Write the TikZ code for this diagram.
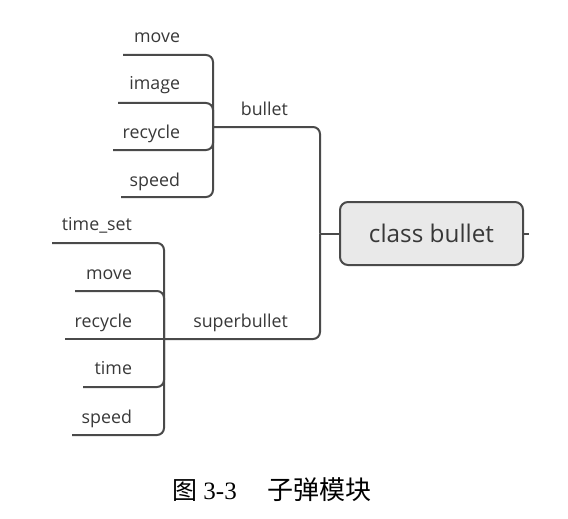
\documentclass[tikz,border=0pt]{standalone}
\usepackage{fontspec}
\setmainfont{Open Sans}
\newfontfamily\cjk{Noto Sans CJK SC}
\newfontfamily\capfont{Liberation Serif}
\definecolor{linegray}{HTML}{4A4A4A}
\definecolor{textgray}{HTML}{383838}
\definecolor{boxfill}{HTML}{E9E9E9}
\begin{document}
\begin{tikzpicture}[x=1pt, y=-1pt, line width=2pt,
    leaf/.style={anchor=base east, inner sep=0pt, text=textgray, font=\fontsize{17.8}{20}\selectfont},
    branch/.style={draw=linegray, rounded corners=7pt},
    main node/.style={draw=linegray, fill=boxfill, rounded corners=8pt, minimum width=183pt, minimum height=63pt, text=textgray, font=\fontsize{24.3}{28}\selectfont}]

                \useasboundingbox (0,0) rectangle (568,519);

                \node[main node] at (431.5, 233.5) (cb) {class bullet};
                \coordinate (hub) at (320, 233.5);
                \coordinate (stub) at (529, 233.5);

                % bullet
                \coordinate (bj) at (213, 127);
                \node[leaf] at (289, 115) (bullet) {bullet};
                \node[leaf] at (181, 43) (move1) {move};
                \node[leaf] at (181, 90) (image1) {image};
                \node[leaf] at (181, 138) (recycle1) {recycle};
                \node[leaf] at (181, 186) (speed1) {speed};
                \coordinate (move1l) at (123, 55);
                \coordinate (image1l) at (118, 103);
                \coordinate (recycle1l) at (113, 150);
                \coordinate (speed1l) at (121, 197);

                % superbullet
                \coordinate (sj) at (164, 339);
                \node[leaf] at (289, 327) (superbullet) {superbullet};
                \node[leaf] at (133, 230) (timeset2) {time\_set};
                \node[leaf] at (133, 279) (move2) {move};
                \node[leaf] at (133, 327) (recycle2) {recycle};
                \node[leaf] at (133, 374) (time2) {time};
                \node[leaf] at (133, 423) (speed2) {speed};
                \coordinate (timeset2l) at (52, 243);
                \coordinate (move2l) at (75, 291);
                \coordinate (recycle2l) at (65, 339);
                \coordinate (time2l) at (83, 387);
                \coordinate (speed2l) at (72, 435);

                \draw[branch] (cb.west) -- (hub);
                \draw[branch] (cb.east) -- (stub);
                \draw[branch] (hub) |- (bj);
                \draw[branch] (hub) |- (sj);

                \draw[branch] (bj) |- (move1l);
                \draw[branch] (bj) |- (image1l);
                \draw[branch] (bj) |- (recycle1l);
                \draw[branch] (bj) |- (speed1l);

                \draw[branch] (sj) |- (timeset2l);
                \draw[branch] (sj) |- (move2l);
                \draw[branch] (sj) -- (recycle2l);
                \draw[branch] (sj) |- (time2l);
                \draw[branch] (sj) |- (speed2l);

                \node[anchor=base west, inner sep=0pt, font=\fontsize{25}{28}\selectfont] at (171, 499) (fig) {{\cjk 图} {\capfont 3-3}};
                \node[anchor=base west, inner sep=0pt, font=\fontsize{26}{30}\selectfont\cjk] at (266, 499) (title) {子弹模块};
            \end{tikzpicture}
\end{document}
